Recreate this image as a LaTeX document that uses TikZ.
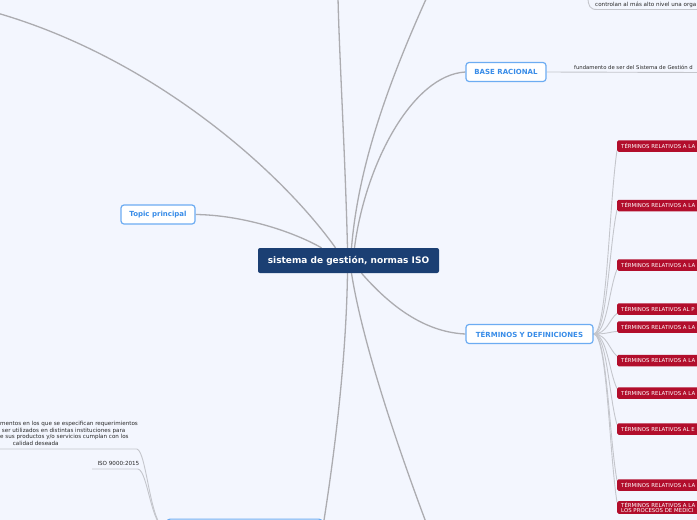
\documentclass[tikz,border=0pt]{standalone}
\usepackage{fontspec}
\setmainfont{DejaVu Sans}
\usetikzlibrary{backgrounds}
\definecolor{bg}{RGB}{243,246,254}
\definecolor{centralfill}{RGB}{27,63,115}
\definecolor{topicblue}{RGB}{56,140,232}
\definecolor{topicborder}{RGB}{108,172,242}
\definecolor{termred}{RGB}{178,14,44}
\definecolor{conn}{RGB}{172,172,176}
\definecolor{connlight}{RGB}{196,198,204}
\definecolor{notetext}{RGB}{40,40,40}
\begin{document}
\begin{tikzpicture}[x=1pt,y=-1pt,
  central/.style={fill=centralfill, rounded corners=2pt, text=white,
    font=\bfseries\fontsize{9}{10}\selectfont, minimum width=181pt,
    minimum height=25pt, inner sep=0pt},
  topic/.style={draw=topicborder, line width=1.2pt, fill=white,
    rounded corners=3pt, text=topicblue,
    font=\bfseries\fontsize{7}{8}\selectfont, inner sep=0pt,
    minimum height=19pt},
  term/.style={fill=termred, rounded corners=1.5pt, text=white,
    font=\fontsize{5.4}{6}\selectfont, anchor=west, minimum height=11.5pt,
    text width=92pt, inner xsep=4pt, inner ysep=1pt, align=left},
  note/.style={font=\fontsize{5.6}{6.4}\selectfont, text=notetext, inner sep=0pt},
  mainline/.style={draw=conn, line width=1.3pt},
  subline/.style={draw=connlight, line width=0.9pt}]
\useasboundingbox (0,0) rectangle (697,520);

% free ends
\coordinate (offL) at (-10,11);
\coordinate (offT) at (338,-3);
\coordinate (offTR) at (427,-3);
\coordinate (offBR) at (427,525);
\coordinate (offTRline) at (588,-3);
\coordinate (trEnd) at (700,9.5);
\coordinate (brEnd) at (700,72.5);
\coordinate (leftEnd) at (-3,449);
\coordinate (isoEnd) at (92,469);

% nodes
\node[central] (c) at (348.5,260.5) {sistema de gestión, normas ISO};
\node[topic, minimum width=74pt] (tp) at (158,214.5) {Topic principal};
\node[topic, minimum width=80pt] (br) at (506,72) {BASE RACIONAL};
\node[topic, minimum width=127pt] (td) at (529.5,334) {TÉRMINOS Y DEFINICIONES};
\node[topic, minimum width=155pt, minimum height=20pt, anchor=north] (bn) at (244.5,518.5) {};

% notes
\node[note, anchor=base west] (n1) at (595,6.8) {controlan al más alto nivel una orga};
\node[note, anchor=base west, font=\fontsize{5.3}{6.4}\selectfont] (n2) at (574,69.5) {fundamento de ser del Sistema de Gestión d};
\node[note, anchor=north west, align=left] (n3) at (0,421.5)
  {mentos en los que se especifican requerimientos\\
   \hspace*{1.7pt}ser utilizados en distintas instituciones para\\
   e sus productos y/o servicios cumplan con los\\
   \hspace*{12.7pt}calidad deseada};
\node[note, anchor=east] (n4) at (139.5,463.5) {ISO 9000:2015};

% red term boxes
\node[term] (t1) at (617,146) {TÉRMINOS RELATIVOS A LA};
\node[term] (t2) at (617,205.5) {TÉRMINOS RELATIVOS A LA};
\node[term] (t3) at (617,265) {TÉRMINOS RELATIVOS A LA};
\node[term] (t4) at (617,309) {TÉRMINOS RELATIVOS AL P};
\node[term] (t5) at (617,327) {TÉRMINOS RELATIVOS A LA};
\node[term] (t6) at (617,360.5) {TÉRMINOS RELATIVOS A LA};
\node[term] (t7) at (617,393) {TÉRMINOS RELATIVOS A LA};
\node[term] (t8) at (617,429) {TÉRMINOS RELATIVOS AL E};
\node[term] (t9) at (617,485) {TÉRMINOS RELATIVOS A LA};
\node[term, font=\fontsize{5.4}{5.8}\selectfont] (t10) at (617,507.5) {TÉRMINOS RELATIVOS A LA\\LOS PROCESOS DE MEDICI};

\begin{scope}[on background layer]
\fill[bg] (0,0) rectangle (697,520);
\draw[mainline] ([xshift=-13pt]c.north) .. controls (280,170) and (150,55) .. (offL);
\draw[mainline] (tp.east) .. controls (240,215) and (290,230) .. ([xshift=-27pt]c.north);
\draw[mainline] ([xshift=-1pt]c.north) .. controls (345,150) and (339,50) .. (offT);
\draw[mainline] ([xshift=3pt]c.north) .. controls (358,170) and (385,90) .. (offTR);
\draw[mainline] ([xshift=6pt]c.north) .. controls (365,165) and (412,75) .. (br.west);
\draw[mainline] ([xshift=13pt]c.south) .. controls (385,300) and (420,332) .. (td.west);
\draw[mainline] ([xshift=-1pt]c.south) .. controls (346,370) and (332,470) .. (bn.east);
\draw[mainline] ([xshift=3pt]c.south) .. controls (362,340) and (395,440) .. (offBR);

\draw[subline] (offTRline) .. controls (588,6) and (590,9.5) .. (597,9.5) -- (trEnd);
\draw[subline] (br.east) -- (brEnd);
\draw[subline] (bn.west) .. controls (150,528) and (147,452) .. (137,449) -- (leftEnd);
\draw[subline] (bn.west) .. controls (151,528) and (148,471) .. (138,469) -- (isoEnd);

\draw[subline] (td.east) .. controls (607,334) and (609,205.5) .. ([yshift=1.5pt]t1.south west);
\draw[subline] (td.east) .. controls (607,334) and (609,247) .. ([yshift=1.5pt]t2.south west);
\draw[subline] (td.east) .. controls (607,334) and (609,288.5) .. ([yshift=1.5pt]t3.south west);
\draw[subline] (td.east) .. controls (607,334) and (609,319.5) .. ([yshift=1.5pt]t4.south west);
\draw[subline] (td.east) .. controls (607,334) and (609,332) .. ([yshift=1.5pt]t5.south west);
\draw[subline] (td.east) .. controls (607,334) and (609,349.5) .. ([yshift=-1.5pt]t6.north west);
\draw[subline] (td.east) .. controls (607,334) and (609,372) .. ([yshift=-1.5pt]t7.north west);
\draw[subline] (td.east) .. controls (607,334) and (609,397.5) .. ([yshift=-1.5pt]t8.north west);
\draw[subline] (td.east) .. controls (607,334) and (609,436.5) .. ([yshift=-1.5pt]t9.north west);
\draw[subline] (td.east) .. controls (607,334) and (609,449.5) .. ([yshift=-1.5pt]t10.north west);
\end{scope}
\end{tikzpicture}
\end{document}
